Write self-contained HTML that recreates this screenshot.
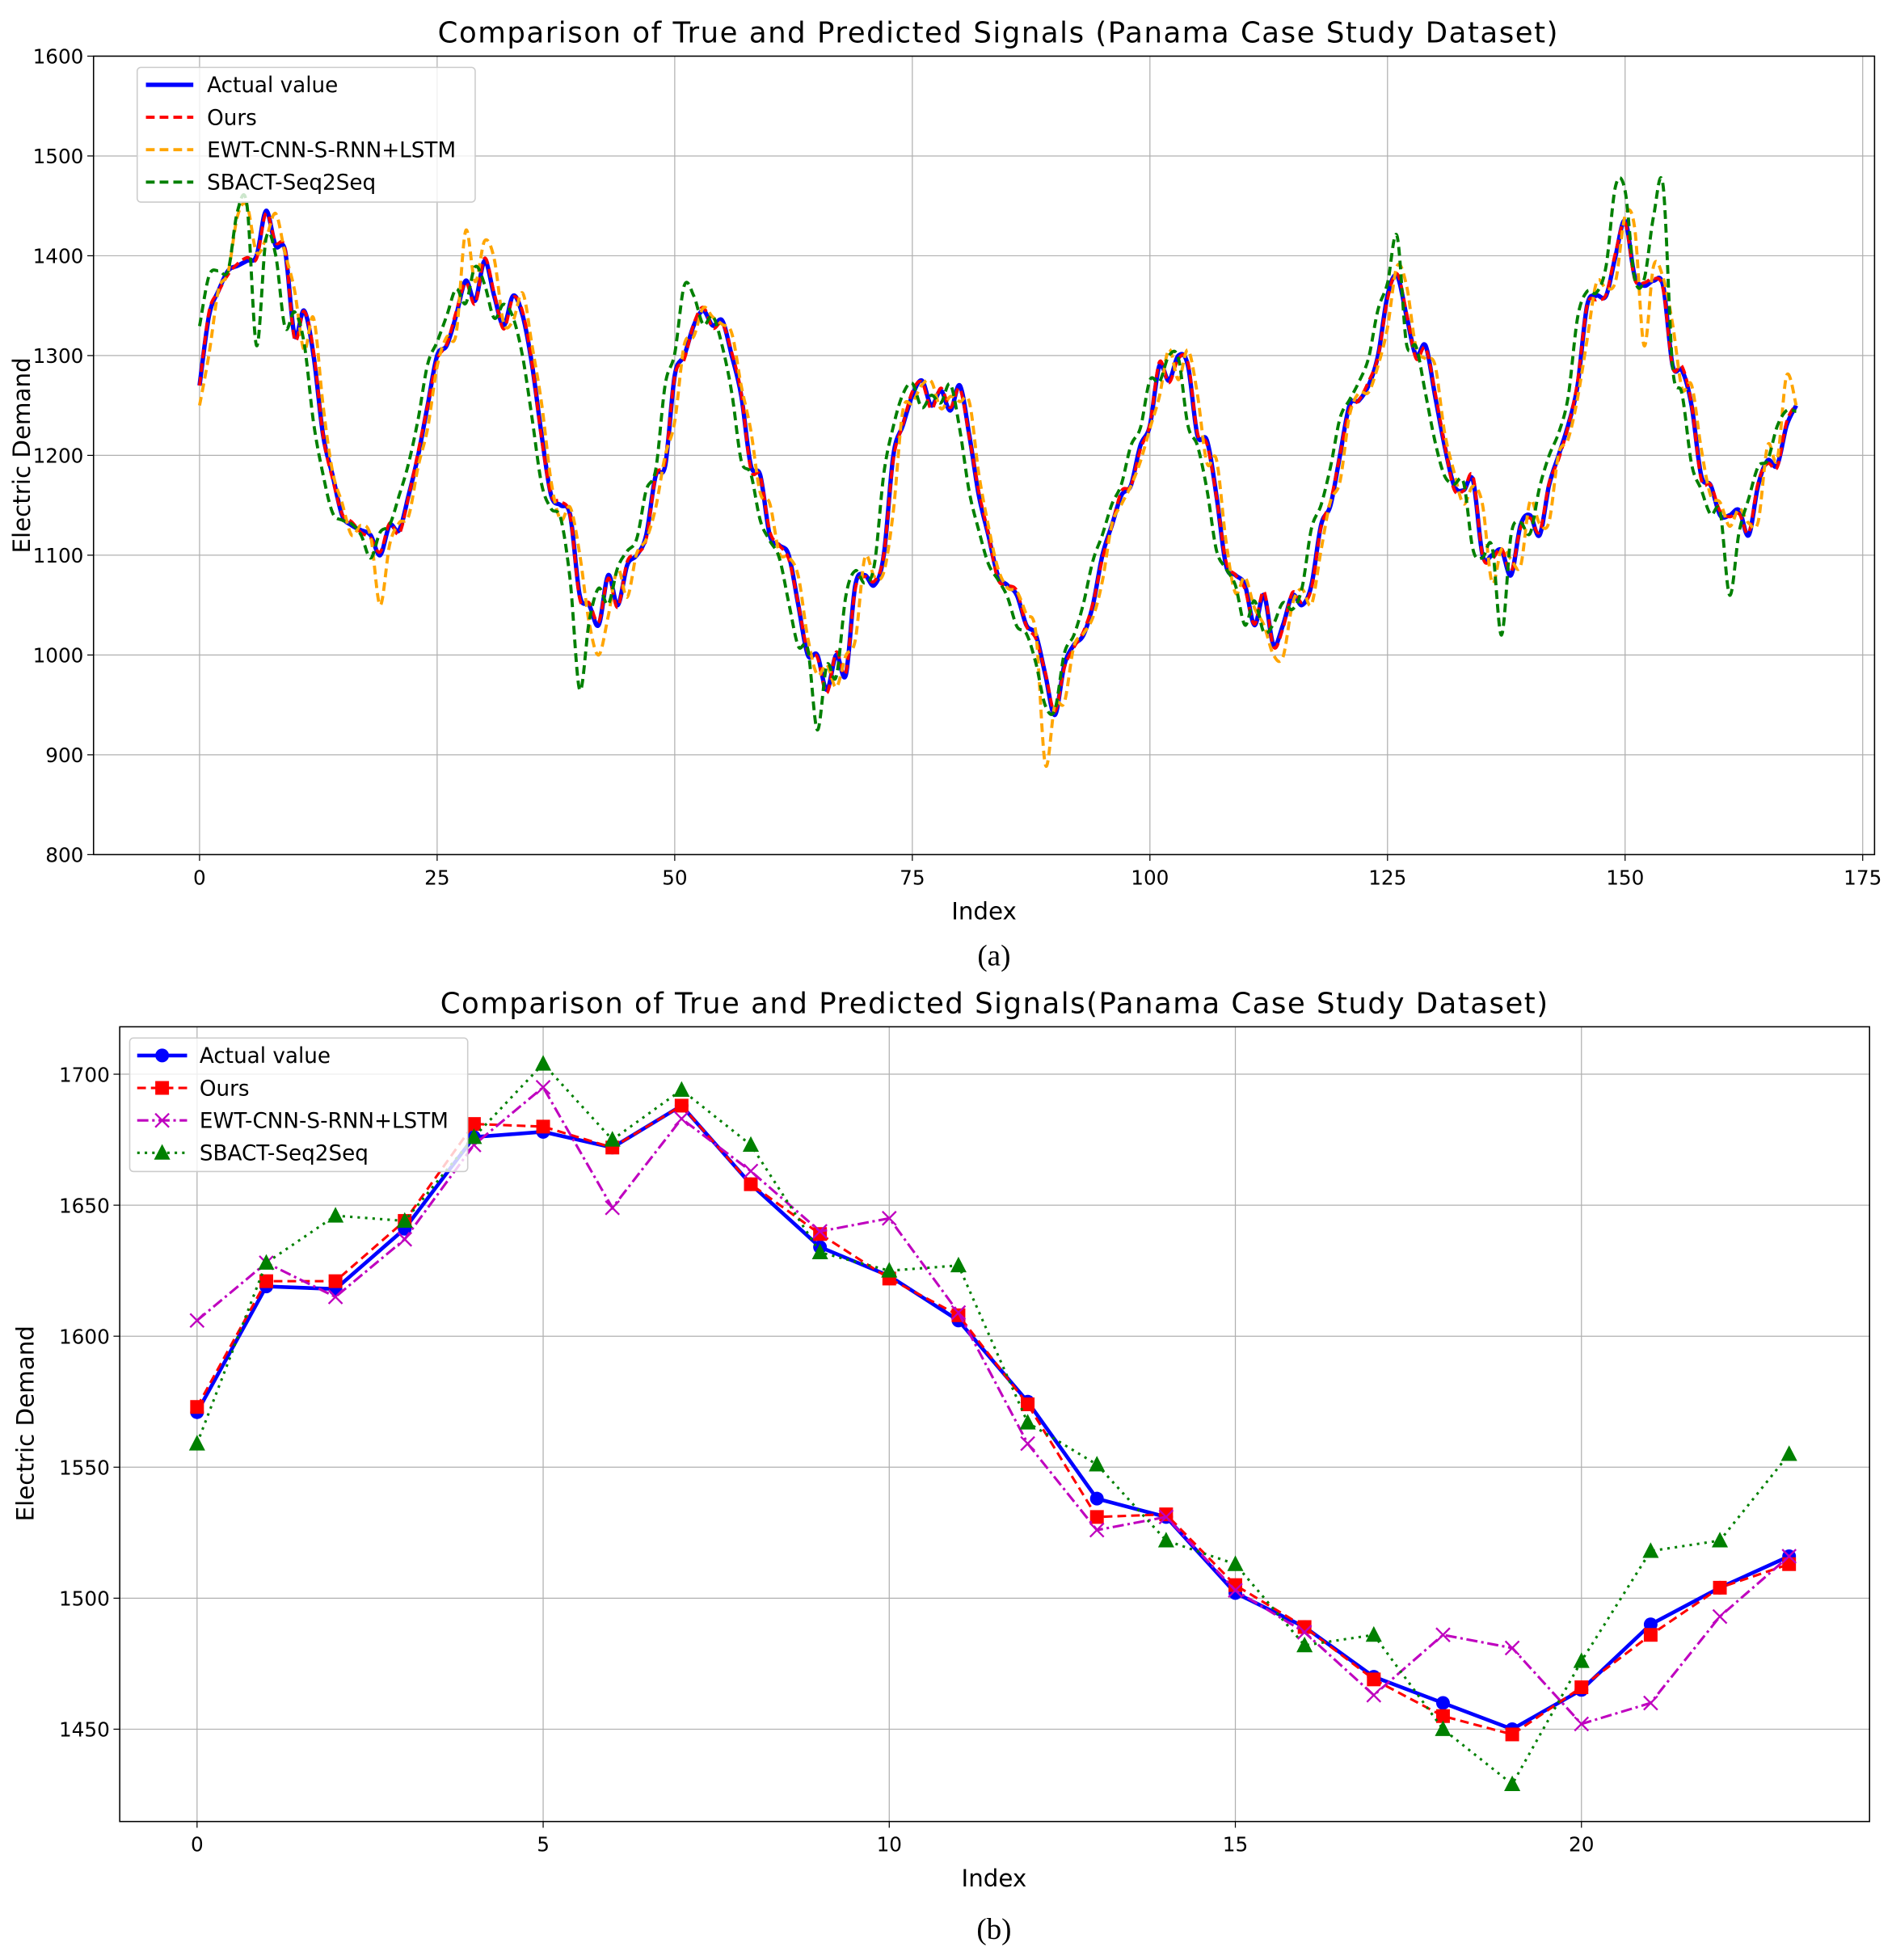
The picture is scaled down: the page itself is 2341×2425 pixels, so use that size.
<!DOCTYPE html>
<html><head><meta charset="utf-8"><style>
html,body{margin:0;padding:0;background:#fff;}
svg{display:block;}
text{font-family:"DejaVu Sans","Liberation Sans",sans-serif;fill:#000;}
</style></head><body>
<svg id="s" width="2341" height="2425" viewBox="0 0 1517 1571" preserveAspectRatio="none" xmlns="http://www.w3.org/2000/svg"></svg>
<script>
const S=document.getElementById('s');let h='';
function cr(pts){let d='M'+pts[0][0].toFixed(1)+','+pts[0][1].toFixed(1);
for(let i=0;i<pts.length-1;i++){const p0=pts[Math.max(0,i-1)],p1=pts[i],p2=pts[i+1],p3=pts[Math.min(pts.length-1,i+2)];
d+=' C'+(p1[0]+(p2[0]-p0[0])/6).toFixed(1)+','+(p1[1]+(p2[1]-p0[1])/6).toFixed(1)+' '+(p2[0]-(p3[0]-p1[0])/6).toFixed(1)+','+(p2[1]-(p3[1]-p1[1])/6).toFixed(1)+' '+p2[0].toFixed(1)+','+p2[1].toFixed(1);}return d;}
const A=[1270,1340,1365,1385,1390,1395,1400,1445,1410,1405,1320,1345,1300,1220,1180,1140,1130,1125,1120,1100,1130,1125,1160,1200,1250,1300,1310,1340,1375,1355,1395,1360,1330,1360,1340,1290,1220,1160,1150,1140,1060,1050,1030,1080,1050,1090,1100,1120,1180,1190,1280,1300,1330,1345,1330,1335,1300,1260,1190,1180,1120,1110,1100,1050,1000,1000,965,1000,980,1070,1080,1070,1100,1200,1230,1260,1275,1250,1265,1245,1270,1220,1160,1120,1080,1070,1060,1030,1020,980,940,990,1010,1020,1050,1100,1130,1160,1170,1210,1230,1290,1275,1300,1290,1220,1215,1160,1090,1080,1070,1030,1060,1010,1030,1060,1050,1070,1130,1150,1200,1250,1255,1270,1300,1360,1380,1340,1300,1310,1260,1210,1170,1165,1175,1100,1100,1105,1080,1130,1140,1120,1170,1200,1230,1270,1350,1360,1360,1400,1435,1380,1370,1375,1370,1290,1285,1250,1180,1170,1140,1140,1145,1120,1170,1195,1190,1230,1250];
const n=A.length;const g=i=>A[Math.max(0,Math.min(n-1,i))];
const ax=i=>160+i*7.62, ay=v=>45+(1600-v)*0.8;
const O=A.map((v,i)=>v+4*Math.sin(i*1.7));
const E=A.map((v,i)=>i==0?1250:0.6*g(i-1)+0.4*g(i)+0.3*(g(i-1)-g(i-2))+5*Math.sin(i*2.3));
const G=A.map((v,i)=>0.5*g(i+1)+0.5*g(i)+0.35*(g(i+1)-g(i))+6*Math.sin(i*1.3));
Object.assign(E,{4:1440,5:1450,19:1050,42:1000,89:890,113:1000,150:1440,153:1390,152:1310,165:1210,167:1280,28:1425,30:1415});
Object.assign(G,{1:1380,4:1445,5:1450,6:1310,40:965,65:925,90:945,137:1020,149:1470,150:1465,154:1470,153:1440,51:1370,52:1360,161:1060,126:1420});
let gr='';for(let t=0;t<=175;t+=25){const x=ax(t);gr+=`<line x1="${x}" y1="45" x2="${x}" y2="685" stroke="#b0b0b0" stroke-width="0.8"/><line x1="${x}" y1="685" x2="${x}" y2="690" stroke="#000" stroke-width="0.8"/><text x="${x}" y="709" font-size="16" text-anchor="middle">${t}</text>`;}
for(let v=800;v<=1600;v+=100){const y=ay(v);gr+=`<line x1="75" y1="${y}" x2="1503" y2="${y}" stroke="#b0b0b0" stroke-width="0.8"/><line x1="70" y1="${y}" x2="75" y2="${y}" stroke="#000" stroke-width="0.8"/><text x="67" y="${y+6}" font-size="16" text-anchor="end">${v}</text>`;}
h+=gr;
const P=a=>a.map((v,i)=>[ax(i),ay(v)]);
h+=`<path d="${cr(P(A))}" fill="none" stroke="#0000ff" stroke-width="3.5"/>`;
h+=`<path d="${cr(P(O))}" fill="none" stroke="#ff0000" stroke-width="2.5" stroke-dasharray="7,4"/>`;
h+=`<path d="${cr(P(E))}" fill="none" stroke="#ffa500" stroke-width="2.5" stroke-dasharray="7,4"/>`;
h+=`<path d="${cr(P(G))}" fill="none" stroke="#008000" stroke-width="2.5" stroke-dasharray="7,4"/>`;
h+=`<rect x="75" y="45" width="1428" height="640" fill="none" stroke="#000" stroke-width="1"/>`;
h+=`<text x="800" y="34" font-size="23" text-anchor="middle" textLength="898">Comparison of True and Predicted Signals (Panama Case Study Dataset)</text>`;
h+=`<text x="789" y="737" font-size="19" text-anchor="middle">Index</text>`;
h+=`<text transform="translate(24,365) rotate(-90)" font-size="19" text-anchor="middle">Electric Demand</text>`;
h+=`<text x="797" y="774" font-size="24" text-anchor="middle" style="font-family:'Liberation Serif',serif">(a)</text>`;
h+=`<rect x="110" y="54" width="271" height="108" rx="3" fill="#fff" fill-opacity="0.8" stroke="#ccc"/>`;
const la=[['Actual value','#0000ff',3.5,''],['Ours','#ff0000',2.5,'7,4'],['EWT-CNN-S-RNN+LSTM','#ffa500',2.5,'7,4'],['SBACT-Seq2Seq','#008000',2.5,'7,4']];
la.forEach((e,k)=>{const y=68+k*26;h+=`<line x1="117" y1="${y}" x2="155" y2="${y}" stroke="${e[1]}" stroke-width="${e[2]}" stroke-dasharray="${e[3]}"/><text x="166" y="${y+6}" font-size="17">${e[0]}</text>`;});
const bx=i=>158+i*55.5, by=v=>861+(1700-v)*2.1;
const BA=[1571,1619,1618,1641,1676,1678,1672,1688,1658,1634,1623,1606,1575,1538,1531,1502,1489,1470,1460,1450,1465,1490,1504,1516];
const BO=[1573,1621,1621,1644,1681,1680,1672,1688,1658,1639,1622,1608,1574,1531,1532,1505,1489,1469,1455,1448,1466,1486,1504,1513];
const BE=[1606,1628,1615,1637,1673,1695,1649,1683,1663,1640,1645,1609,1559,1526,1531,1503,1487,1463,1486,1481,1452,1460,1493,1516];
const BG=[1559,1628,1646,1644,1676,1704,1675,1694,1673,1632,1625,1627,1567,1551,1522,1513,1482,1486,1450,1429,1476,1518,1522,1555];
gr='';for(let t=0;t<=20;t+=5){const x=bx(t);gr+=`<line x1="${x}" y1="823" x2="${x}" y2="1460" stroke="#b0b0b0" stroke-width="0.8"/><line x1="${x}" y1="1460" x2="${x}" y2="1465" stroke="#000" stroke-width="0.8"/><text x="${x}" y="1484" font-size="16" text-anchor="middle">${t}</text>`;}
for(let v=1450;v<=1700;v+=50){const y=by(v);gr+=`<line x1="96" y1="${y}" x2="1499" y2="${y}" stroke="#b0b0b0" stroke-width="0.8"/><line x1="91" y1="${y}" x2="96" y2="${y}" stroke="#000" stroke-width="0.8"/><text x="88" y="${y+6}" font-size="16" text-anchor="end">${v}</text>`;}
h+=gr;
const pl=a=>a.map((v,i)=>bx(i).toFixed(1)+','+by(v).toFixed(1)).join(' ');
const circ=(x,y,c)=>`<circle cx="${x}" cy="${y}" r="5.5" fill="${c}"/>`;
const sq=(x,y,c)=>`<rect x="${x-5.5}" y="${y-5.5}" width="11" height="11" fill="${c}"/>`;
const cx=(x,y,c)=>`<path d="M${x-5.5},${y-5.5}L${x+5.5},${y+5.5}M${x-5.5},${y+5.5}L${x+5.5},${y-5.5}" stroke="${c}" stroke-width="1.5"/>`;
const tri=(x,y,c)=>`<path d="M${x},${y-7}L${x+6.5},${y+5.5}L${x-6.5},${y+5.5}Z" fill="${c}"/>`;
function ser(a,c,w,da,m){h+=`<polyline points="${pl(a)}" fill="none" stroke="${c}" stroke-width="${w}" stroke-dasharray="${da}"/>`;a.forEach((v,i)=>h+=m(bx(i),by(v),c));}
ser(BA,'#0000ff',3,'',circ);
ser(BO,'#ff0000',2,'7,4',sq);
ser(BE,'#bf00bf',2,'9,3,2,3',cx);
ser(BG,'#008000',2,'2,4',tri);
h+=`<rect x="96" y="823" width="1403" height="637" fill="none" stroke="#000" stroke-width="1"/>`;
h+=`<text x="797" y="812" font-size="23" text-anchor="middle" textLength="888">Comparison of True and Predicted Signals(Panama Case Study Dataset)</text>`;
h+=`<text x="797" y="1512" font-size="19" text-anchor="middle">Index</text>`;
h+=`<text transform="translate(27,1141) rotate(-90)" font-size="19" text-anchor="middle">Electric Demand</text>`;
h+=`<text x="797" y="1554" font-size="24" text-anchor="middle" style="font-family:'Liberation Serif',serif">(b)</text>`;
h+=`<rect x="104" y="832" width="271" height="107" rx="3" fill="#fff" fill-opacity="0.8" stroke="#ccc"/>`;
const lb=[['Actual value','#0000ff',3,'',circ],['Ours','#ff0000',2,'7,4',sq],['EWT-CNN-S-RNN+LSTM','#bf00bf',2,'9,3,2,3',cx],['SBACT-Seq2Seq','#008000',2,'2,4',tri]];
lb.forEach((e,k)=>{const y=846+k*26;h+=`<line x1="110" y1="${y}" x2="150" y2="${y}" stroke="${e[1]}" stroke-width="${e[2]}" stroke-dasharray="${e[3]}"/>`+e[4](130,y,e[1])+`<text x="160" y="${y+6}" font-size="17">${e[0]}</text>`;});
S.innerHTML=h;
</script>
</body></html>
